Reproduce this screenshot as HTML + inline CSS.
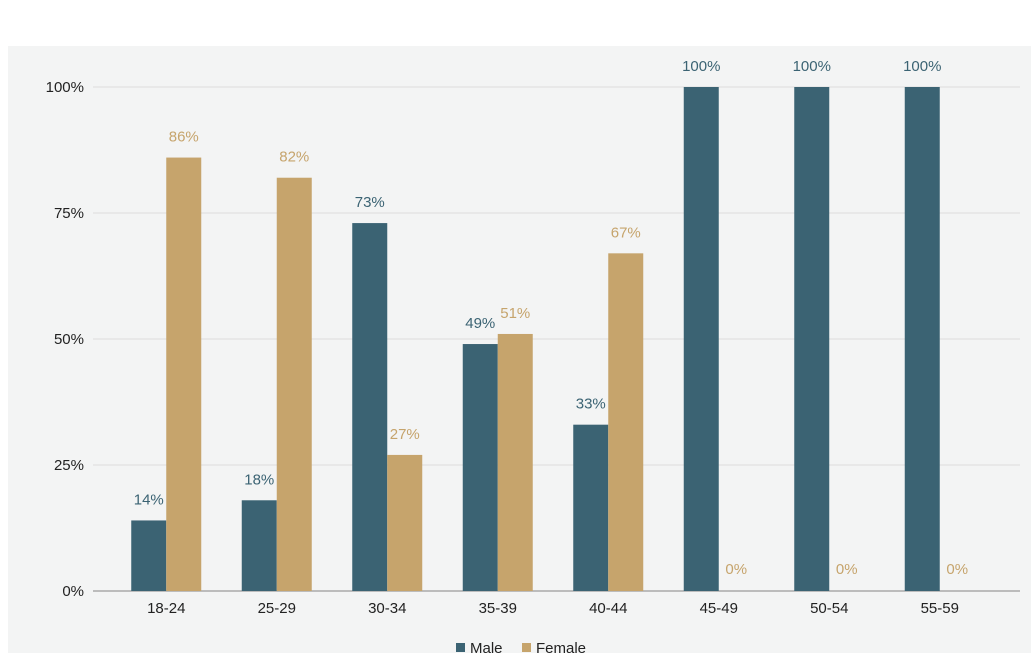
<!DOCTYPE html>
<html><head><meta charset="utf-8"><style>
html,body{margin:0;padding:0;background:#fff;width:1031px;height:672px;overflow:hidden}
svg{display:block;font-family:"Liberation Sans",Arial,sans-serif}
</style></head><body>
<svg width="1031" height="672">
<rect x="8" y="46" width="1023" height="607" fill="#f3f4f4"/>
<g id="grid"></g><g id="bars"></g><g id="labels"></g>
<g>
<rect x="456" y="643" width="9" height="9" fill="#3b6373"/>
<text x="470" y="653" font-size="15" fill="#222">Male</text>
<rect x="522" y="643" width="9" height="9" fill="#c6a46c"/>
<text x="536" y="653" font-size="15" fill="#222">Female</text>
</g>
<rect x="0" y="653" width="1031" height="19" fill="#fff"/>
</svg>
<script>
const categories=["18-24","25-29","30-34","35-39","40-44","45-49","50-54","55-59"];
const male=[14,18,73,49,33,100,100,100];
const female=[86,82,27,51,67,0,0,0];
const yTicks=[0,25,50,75,100];
const NS="http://www.w3.org/2000/svg";
const y0=591,y100=87,left=111,step=110.5,bw=35;
const y=v=>y0-(v/100)*(y0-y100);
const cx=i=>left+step/2+i*step;
function mk(t,a,p){const e=document.createElementNS(NS,t);for(const k in a)e.setAttribute(k,a[k]);document.getElementById(p).appendChild(e);return e;}
yTicks.forEach(t=>{
 const l=mk("line",{x1:93,x2:1020,y1:y(t),y2:y(t),stroke:t===0?"#aaa":"#dcdcdc","stroke-width":t===0?1.5:1},"grid");
 
 
 const tx=mk("text",{x:84,y:y(t)+5,"text-anchor":"end","font-size":15,fill:"#222"},"grid");tx.textContent=t+"%";
 
 
});
categories.forEach((c,i)=>{
 const x=cx(i);
 const t=mk("text",{x:x,y:613,"text-anchor":"middle","font-size":15,fill:"#222"},"labels");t.textContent=c;
 
 
 [[male[i],"#3b6373",x-bw,"male"],[female[i],"#c6a46c",x,"female"]].forEach(([v,col,bx,s])=>{
  if(v>0){const r=mk("rect",{x:bx,y:y(v),width:bw,height:y0-y(v),fill:col},"bars");
   
   }
  const lb=mk("text",{x:bx+bw/2,y:(v>0?y(v)-21:y(v)-22)+5,"text-anchor":"middle","font-size":15,fill:col},"labels");
  lb.textContent=v+"%";
  
  
 });
});
</script>
</body></html>
